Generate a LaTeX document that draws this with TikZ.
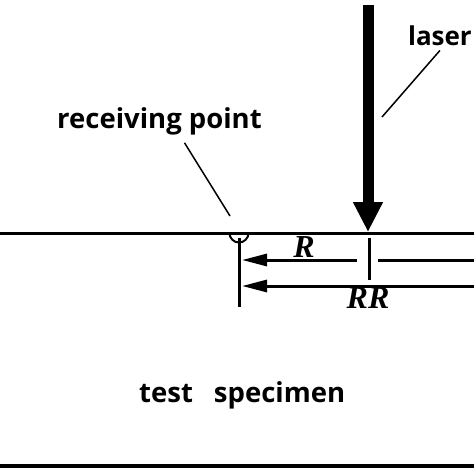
\documentclass[tikz,border=0pt]{standalone}
\usepackage{fontspec}
\newfontfamily\tagfont{Open Sans}
\newfontfamily\symfont{Liberation Serif}
\usetikzlibrary{arrows.meta}

\tikzset{
  surface/.style={line width=3pt},
  beam/.style={line width=11pt,-{Triangle[length=30pt,width=28pt]}},
  wave/.style={line width=3pt,-{Triangle[length=25pt,width=12pt]}},
  leader/.style={line width=1.5pt},
  tag/.style={font=\tagfont\bfseries\fontsize{27.5}{32}\selectfont,inner sep=2pt},
  sym/.style={font=\symfont\bfseries\itshape\fontsize{32}{36}\selectfont,inner sep=1pt}
}

\begin{document}
\begin{tikzpicture}[x=1pt,y=-1pt]
  \useasboundingbox (0,0) rectangle (474,474);

  % specimen surfaces
  \draw[surface] (0,233) coordinate (SL) -- (474,233) coordinate (SR);
  \draw[line width=4pt] (0,466) coordinate (BL) -- (474,466) coordinate (BR);

  % laser beam and receiving point
  \draw (368,5) coordinate (T) (368,232) coordinate (P)
        (239,233) coordinate (Q);
  \draw[beam] (T) -- (P);
  \draw[line width=2pt] (229.5,233) arc (180:0:9.5);

  % labels
  \node[tag,font=\tagfont\bfseries\fontsize{26}{30}\selectfont,anchor=base east] (laser) at (474,45) {laser};
  \node[tag,anchor=base west] (recv) at (55,128) {receiving point};
  \node[tag,anchor=base west] (spec) at (137,402) {test\hspace{21pt}specimen};
  \node[sym,anchor=base] (r1) at (304,257) {R};
  \node[sym,anchor=base] (r2) at (368,308) {RR};

  \draw[leader] ([yshift=-3]laser.south) -- (382,117) coordinate (lt);
  \draw[leader] ([shift={(25,6)}]recv.south) -- (230,216) coordinate (rt);

  % distance marks
  \draw[surface] (239,238) coordinate (A1) -- (239,307) coordinate (A2);
  \draw[surface] (369,238) coordinate (B1) -- (369,280) coordinate (B2);
  \draw[wave] (357,260) -- (242,260);
  \draw[surface] (378,260) -- (474,260);
  \draw[wave] (474,286) -- (242,286);
\end{tikzpicture}
\end{document}
